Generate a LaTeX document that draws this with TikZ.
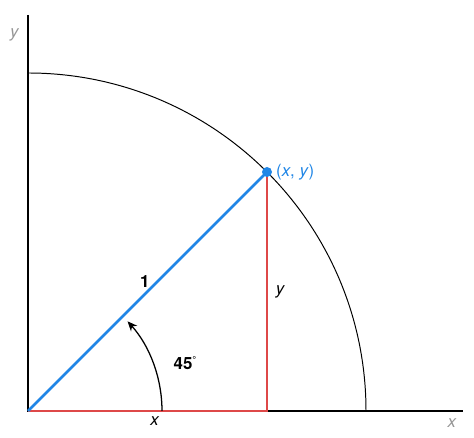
\documentclass[tikz,border=0pt]{standalone}
\usepackage{fontspec}
\setmainfont{TeX Gyre Heros}
\usetikzlibrary{arrows.meta, calc}
\definecolor{ptblue}{RGB}{32,134,230}
\definecolor{legred}{RGB}{222,72,72}
\definecolor{axisgrey}{RGB}{150,150,150}

\begin{document}
\begin{tikzpicture}[x=0.025cm, y=0.025cm, font=\fontsize{12}{14}\selectfont, >={Stealth[length=7pt, width=6pt]}]
		\useasboundingbox (-28, -27) rectangle (446, 411);
		\coordinate (O) at (0, 0);
		\coordinate (ytop) at (0, 396);
		\coordinate (xend) at (435, 0);
		\coordinate (P) at (45:338);
		\coordinate (F) at (P |- O);
		\draw[line width=0.9pt] (ytop) node[axisgrey, anchor=east, xshift=-3pt, yshift=-14pt] {\itshape y} to (O) to (xend) node[axisgrey, anchor=north, xshift=-8pt, yshift=-2pt] {\itshape x};
		\draw[line width=0.7pt] (0, 338) arc (90:0:338);
		\draw[legred, line width=1.9pt] (O) to node[pos=0.53, below, black] {\itshape x} (F) to node[midway, right, black, xshift=2pt] {\itshape y} (P);
		\draw[ptblue, line width=1.9pt] (O) to node[pos=0.54, left=1pt, black] {\bfseries 1} (P);
		\draw[->, line width=0.9pt] (134, 0) arc (0:42:134);
		\node[anchor=center] (ang) at (157, 48) {\bfseries 45\raisebox{4.5pt}{\scriptsize\textdegree}};
		\fill[ptblue] (P) circle (5);
		\node[ptblue, anchor=west, xshift=3pt] (Plabel) at (P) {(\textit{x}, \textit{y})};
	\end{tikzpicture}
\end{document}
